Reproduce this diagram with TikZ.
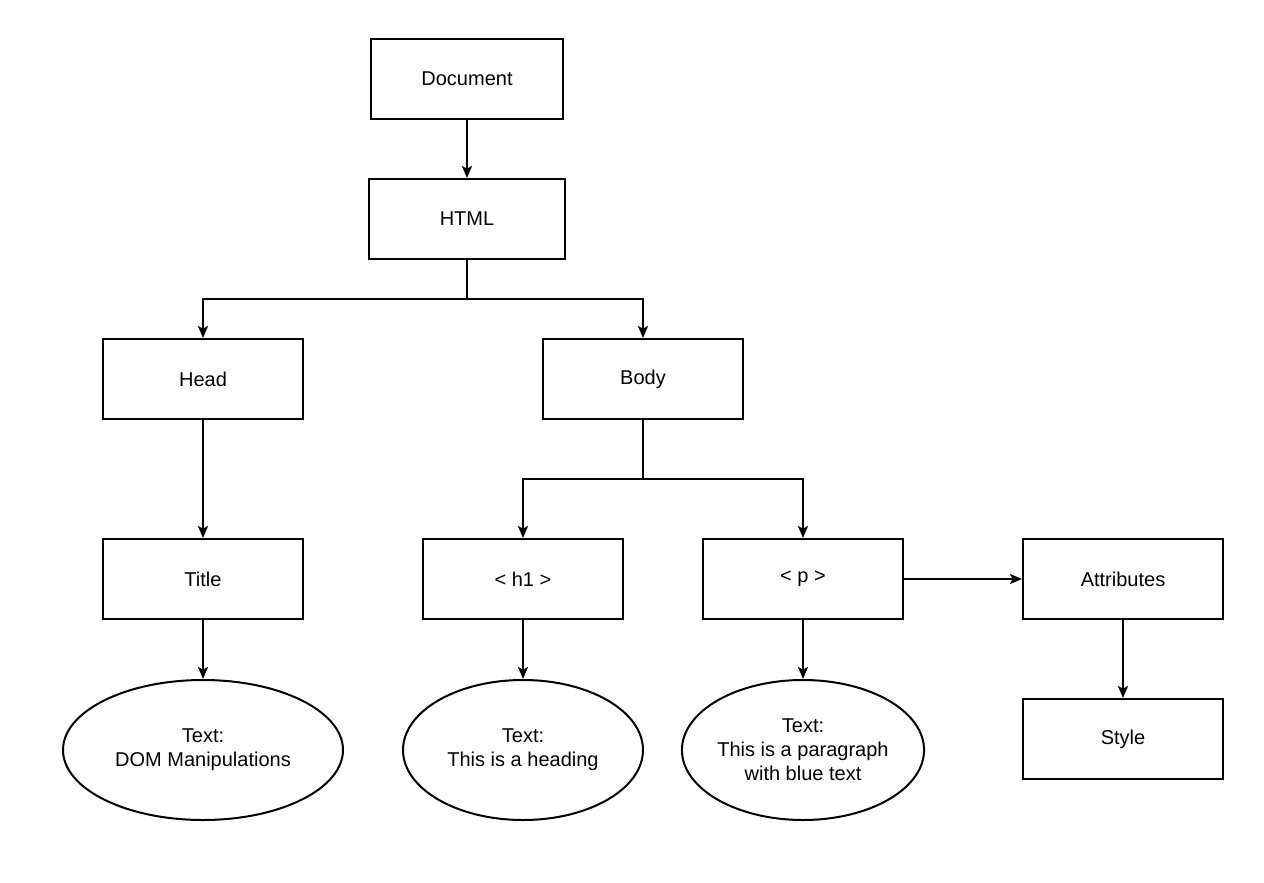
\documentclass[tikz,border=0pt]{standalone}
\usepackage{fontspec}
\setmainfont{Liberation Sans}
\usetikzlibrary{arrows.meta,shapes.geometric}
\begin{document}
\begin{tikzpicture}[x=0.75pt,y=-0.75pt,
  box/.style={draw,line width=1.5pt,minimum width=150pt,minimum height=60pt,inner sep=0pt,font=\fontsize{15}{18}\selectfont,align=center},
  ell/.style={draw,ellipse,line width=1.5pt,minimum width=#1,minimum height=105pt,inner sep=0pt,font=\fontsize{15}{18}\selectfont,align=center},
  arr/.style={line width=1.5pt,-{Stealth[length=9pt,width=7.5pt,inset=2pt]}}]
\useasboundingbox (0,0) rectangle (1264,882);
\node[box,minimum width=144pt] (doc) at (467,79) {Document};
\node[box,minimum width=147pt] (html) at (467,219) {HTML};
\node[box] (head) at (203,379) {Head};
\node[box] (body) at (643,379) {Body};
\node[box] (title) at (203,579) {Title};
\node[box] (h1) at (523,579) {< h1 >};
\node[box] (p) at (803,579) {< p >};
\node[box] (attr) at (1123,579) {Attributes};
\node[box] (style) at (1123,739) {Style};
\node[ell=210pt] (t1) at (203,750) {Text:\\DOM Manipulations};
\node[ell=180pt] (t2) at (523,750) {Text:\\This is a heading};
\node[ell=180pt] (t3) at (803,750) {Text:\\This is a paragraph\\with blue text};
\coordinate (j1) at (467,299);
\coordinate (j2) at (643,479);
\draw[arr] (doc) -- (html);
\draw[arr] (html.south) -- (j1) -| (head.north);
\draw[arr] (html.south) -- (j1) -| (body.north);
\draw[arr] (head) -- (title);
\draw[arr] (body.south) -- (j2) -| (h1.north);
\draw[arr] (body.south) -- (j2) -| (p.north);
\draw[arr] (p) -- (attr);
\draw[arr] (attr) -- (style);
\draw[arr] (title) -- (t1);
\draw[arr] (h1) -- (t2);
\draw[arr] (p) -- (t3);
\end{tikzpicture}
\end{document}
